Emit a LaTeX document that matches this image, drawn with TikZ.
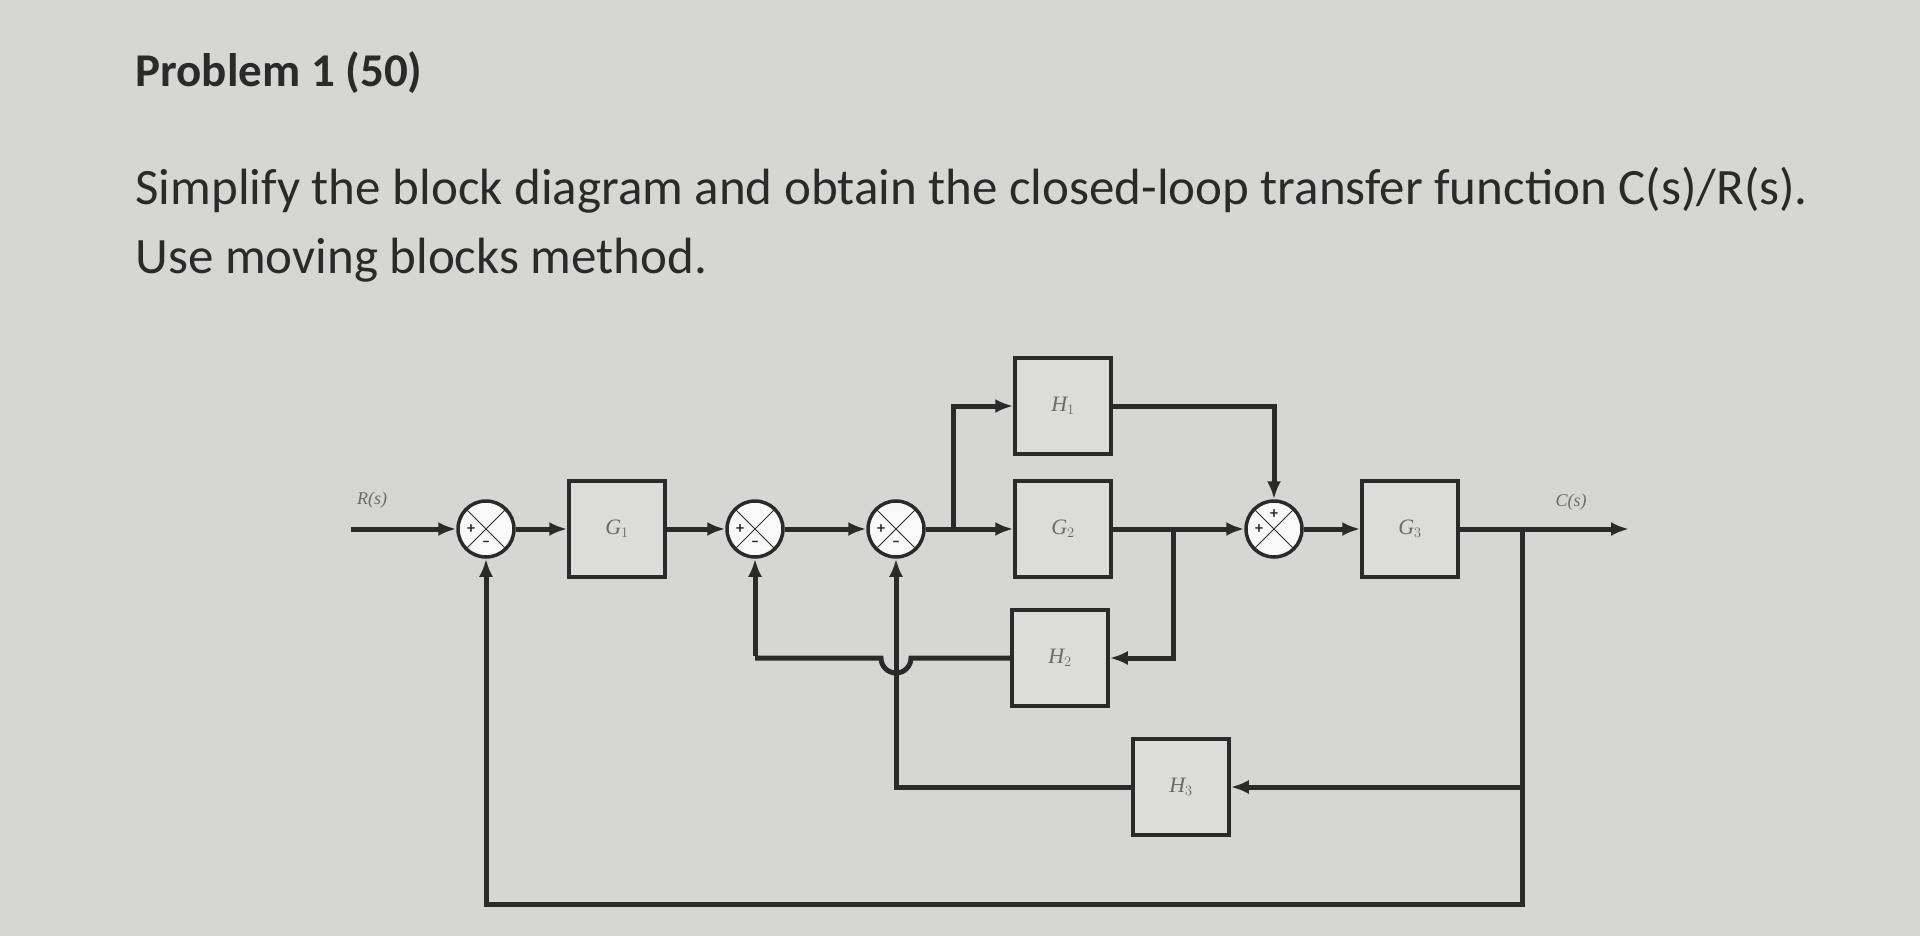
\documentclass[tikz,border=0pt]{standalone}
\usepackage{fontspec}
\setmainfont{Carlito}
\newfontfamily\lbl{Liberation Serif}
\usetikzlibrary{arrows.meta}
\definecolor{bg}{HTML}{D6D6D4}
\definecolor{ink}{HTML}{2A2A2A}
\begin{document}
\begin{tikzpicture}[x=1pt,y=-1pt,
  wire/.style={draw=ink,line width=5pt},
  arr/.style={wire,-{Latex[length=18pt,width=14pt]}},
  blk/.style={draw=ink,line width=3.5pt,fill=bg!85!white,minimum width=96pt,minimum height=96pt,inner sep=0pt,font=\lbl\itshape\fontsize{22}{22}\selectfont,text=ink!70},
  sumn/.style={draw=ink,line width=3.5pt,circle,minimum size=56pt,inner sep=0pt,fill=white!85!bg},
  sg/.style={font=\fontsize{16}{16}\selectfont\bfseries,text=ink}]
\fill[bg] (0,0) rectangle (1920,936);
\useasboundingbox (0,0) rectangle (1920,936);
\node[anchor=west,font=\fontsize{47}{47}\selectfont\bfseries,text=ink] (t1) at (132,73) {Problem 1 (50)};
\node[anchor=west,font=\fontsize{51}{51}\selectfont,text=ink] (t2) at (132,190) {Simplify the block diagram and obtain the closed-loop transfer function C(s)/R(s).};
\node[anchor=west,font=\fontsize{51}{51}\selectfont,text=ink] (t3) at (132,260) {Use moving blocks method.};
% summing junctions
\foreach \n/\x in {s1/486,s2/755,s3/896,s4/1274}{
  \node[sumn] (\n) at (\x,529) {};
  \draw[ink,line width=1pt] (\n.north west)--(\n.south east) (\n.north east)--(\n.south west);
}
\foreach \n in {s1,s2,s3}{
  \node[sg] at ([xshift=-15pt]\n.center) {+};
  \node[sg] at ([yshift=-15pt]\n.center) {--};
}
\node[sg] at ([xshift=-15pt]s4.center) {+};
\node[sg] at ([yshift=15pt]s4.center) {+};
% blocks
\node[blk] (G1) at (617,529) {G$_1$};
\node[blk] (H1) at (1063,406) {H$_1$};
\node[blk] (G2) at (1063,529) {G$_2$};
\node[blk] (H2) at (1060,658) {H$_2$};
\node[blk] (G3) at (1410,529) {G$_3$};
\node[blk] (H3) at (1181,787) {H$_3$};
% coordinates
\coordinate (in) at (351,529);
\coordinate (out) at (1629,529);
\coordinate (b1) at (953,529);
\coordinate (b2) at (1173,529);
\coordinate (b3) at (1522,529);
\coordinate (hL) at (755,658);
\coordinate (bL) at (486,904);
\node[font=\lbl\itshape\fontsize{18}{18}\selectfont,text=ink!70] (Rl) at (372,500) {R(s)};
\node[font=\lbl\itshape\fontsize{18}{18}\selectfont,text=ink!70] (Cl) at (1571,502) {C(s)};
% forward path
\draw[arr] (in) -- (s1.west);
\draw[arr] (s1.east) -- (G1.west);
\draw[arr] (G1.east) -- (s2.west);
\draw[arr] (s2.east) -- (s3.west);
\draw[arr] (s3.east) -- (G2.west);
\draw[arr] (b1) |- (H1.west);
\draw[arr] (G2.east) -- (s4.west);
\draw[arr] (H1.east) -| (s4.north);
\draw[arr] (s4.east) -- (G3.west);
\draw[arr] (G3.east) -- (out);
% H2 loop
\draw[arr] (b2) |- (H2.east);
\draw[wire] (H2.west) -- (911,658) arc[start angle=0,end angle=180,radius=15] -- (hL);
\draw[arr] ([yshift=2.5pt]hL) -- (s2.south);
% H3 loop
\draw[arr] (b3) |- (H3.east);
\draw[arr] (H3.west) -| (s3.south);
% outer loop
\draw[wire] (b3) |- (bL);
\draw[arr] ([yshift=-2.5pt]bL) -- (s1.south);
\end{tikzpicture}
\end{document}
